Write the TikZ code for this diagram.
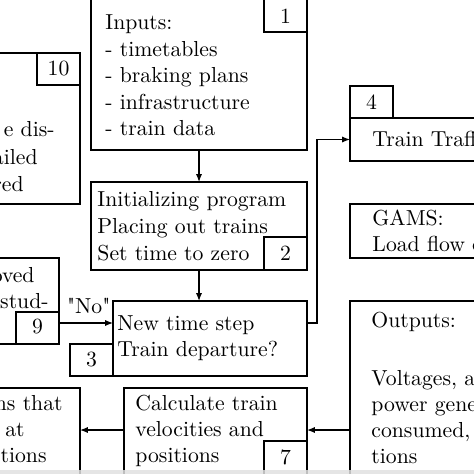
\documentclass[tikz,border=0pt]{standalone}
\usetikzlibrary{fit,arrows.meta}
\begin{document}
\begin{tikzpicture}[x=0.4608pt,y=-0.4608pt,
  box/.style={draw, line width=0.55pt, inner sep=0pt, outer sep=0pt, rectangle},
  txt/.style={inner sep=0pt, anchor=base west, font=\fontsize{10}{12}\selectfont},
  txtr/.style={txt, anchor=base east},
  num/.style={inner sep=0pt, font=\fontsize{10}{12}\selectfont},
  arr/.style={line width=0.55pt, -{Latex[length=3.6pt,width=2.8pt]}}]
\clip (0,0) rectangle (474,474);
% boxes
\node[box, fit={(91,-20) (307,150)}] (b1) {};
\node[box, fit={(264,-20) (307,32)}] (n1) {};
\node[box, fit={(-20,53) (80,204)}] (b10) {};
\node[box, fit={(37,53) (80,85)}] (n10) {};
\node[box, fit={(91,182) (307,270)}] (b2) {};
\node[box, fit={(264,237) (307,270)}] (n2) {};
\node[box, fit={(113,301) (307,376)}] (b3) {};
\node[box, fit={(70,344) (113,376)}] (n3) {};
\node[box, fit={(-20,258) (59,344)}] (b9) {};
\node[box, fit={(16,312) (59,344)}] (n9) {};
\node[box, fit={(350,118) (500,161)}] (b4) {};
\node[box, fit={(350,86) (393,118)}] (n4) {};
\node[box, fit={(350,204) (500,258)}] (bG) {};
\node[box, fit={(350,301) (500,500)}] (bO) {};
\node[box, fit={(124,388) (307,500)}] (b7) {};
\node[box, fit={(264,441) (307,500)}] (n7) {};
\node[box, fit={(-20,388) (80,500)}] (b8) {};
% numbers
\node[num] (l1) at (285.5,16) {1};
\node[num] (l10) at (58.5,69) {10};
\node[num] (l2) at (285.5,253) {2};
\node[num] (l3) at (91.5,360) {3};
\node[num] (l9) at (37.5,327) {9};
\node[num] (l4) at (371.5,102) {4};
\node[num] (l7) at (285.5,457) {7};
% texts
\node[txt] (t1a) at (105,30) {Inputs:};
\node[txt] (t1b) at (105,56.5) {- timetables};
\node[txt] (t1c) at (105,83) {- braking plans};
\node[txt] (t1d) at (105,109.5) {- infrastructure};
\node[txt] (t1e) at (105,136) {- train data};
\node[txtr] (t10a) at (55,137) {e dis-};
\node[txtr] (t10b) at (38,165) {ailed};
\node[txtr] (t10c) at (24,192) {red};
\node[txt] (t2a) at (97,207) {Initializing program};
\node[txt] (t2b) at (97,233.5) {Placing out trains};
\node[txt] (t2c) at (97,260) {Set time to zero};
\node[txt] (t3a) at (117,330) {New time step};
\node[txt] (t3b) at (117,356) {Train departure?};
\node[txtr] (t9a) at (35,282) {oved};
\node[txtr] (t9b) at (49,308) {stud-};
\node[txt] (t4) at (372,147) {Train Traff};
\node[txt] (tGa) at (372,226) {GAMS:};
\node[txt] (tGb) at (372,252) {Load flow c};
\node[txt] (tOa) at (371,327) {Outputs:};
\node[txt] (tOb) at (371,385) {Voltages, a};
\node[txt] (tOc) at (371,411) {power gene};
\node[txt] (tOd) at (371,437) {consumed,};
\node[txt] (tOe) at (371,463) {tions};
\node[txt] (t7a) at (135,410) {Calculate train};
\node[txt] (t7b) at (135,436) {velocities and};
\node[txt] (t7c) at (135,462) {positions};
\node[txtr] (t8a) at (63,410) {ns that};
\node[txtr] (t8b) at (25,436) {at};
\node[txtr] (t8c) at (47,462) {tions};
% connector points
\coordinate (y3) at (0,323);
\coordinate (y7) at (0,430);
% connectors
\draw[arr] (b1.south) -- (b2.north);
\draw[arr] (b2.south) -- (b2.south |- b3.north);
\draw[arr] (b3.east |- y3) -- ++(10,0) |- (b4.west);
\draw[arr] (b9.east |- y3) -- node[txt, anchor=base, pos=0.55, yshift=4.5pt] (no) {\textquotedbl No\textquotedbl} (b3.west |- y3);
\draw[arr] (bO.west |- y7) -- (b7.east |- y7);
\draw[arr] (b7.west |- y7) -- (b8.east |- y7);
% bottom strip
\fill[black!12, opacity=0.85] (0,470) rectangle (474,474);
\end{tikzpicture}
\end{document}
